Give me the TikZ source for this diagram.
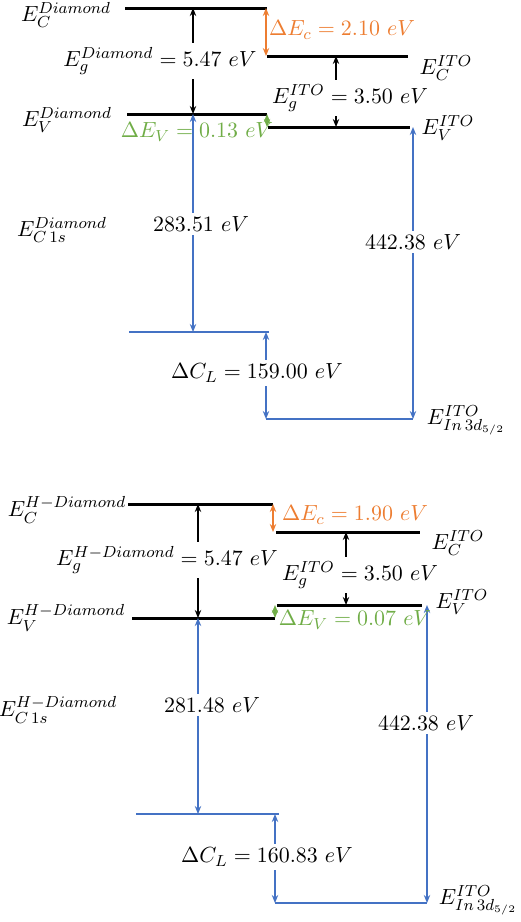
\documentclass[tikz,border=0pt]{standalone}
\usetikzlibrary{arrows.meta}
\definecolor{oblue}{HTML}{4472C4}
\definecolor{oorange}{HTML}{ED7D31}
\definecolor{ogreen}{HTML}{70AD47}
\begin{document}
\begin{tikzpicture}[x=0.5pt,y=-0.5pt,
  level/.style={line width=1.5pt,black},
  core/.style={line width=1.1pt,oblue},
  dbl/.style={line width=0.9pt,{Stealth[length=4pt,width=3.2pt]}-{Stealth[length=4pt,width=3.2pt]}},
  gapar/.style={dbl,black},
  corear/.style={dbl,oblue},
  lbl/.style={inner sep=1pt,font=\fontsize{11}{13}\selectfont},
  cut/.style={lbl,fill=white,inner sep=2pt}]
\useasboundingbox (0,0) rectangle (520,922);
% ---------------- top diagram ----------------
\coordinate (dcL) at (125,8);   \coordinate (dcR) at (267,8);
\coordinate (dvL) at (127,114); \coordinate (dvR) at (267,114);
\coordinate (icL) at (267,56);  \coordinate (icR) at (408,56);
\coordinate (ivL) at (268,127); \coordinate (ivR) at (410,127);
\coordinate (d1L) at (129,332); \coordinate (d1R) at (269,332);
\coordinate (inL) at (266,419); \coordinate (inR) at (413,419);
\coordinate (ga) at (193,8);    \coordinate (gb) at (193,114);
\coordinate (gc) at (193,332);
\coordinate (ia) at (336,56);   \coordinate (ib) at (336,127);
\coordinate (oa) at (266,8);    \coordinate (ob) at (266,56);
\coordinate (ea) at (267,114);  \coordinate (eb) at (267,127);
\coordinate (la) at (266,332);  \coordinate (lb) at (266,419);
\coordinate (ra) at (413,127);  \coordinate (rb) at (413,419);
\draw[level] (dcL) -- (dcR);
\draw[level] (dvL) -- (dvR);
\draw[level] (icL) -- (icR);
\draw[level] (ivL) -- (ivR);
\draw[core] (d1L) -- (d1R);
\draw[core] (inL) -- (inR);
\draw[gapar] (ga) -- (gb);
\draw[gapar] (ia) -- (ib);
\draw[dbl,oorange] (oa) -- (ob);
\draw[dbl,ogreen] (ea) -- (eb);
\draw[corear] (gb) -- (gc);
\draw[corear] (la) -- (lb);
\draw[corear] (ra) -- (rb);
\node[lbl] (t1) at (66,15) {$E_C^{Diamond}$};
\node[lbl] (t2) at (67,120) {$E_V^{Diamond}$};
\node[cut] (t3) at (160,61) {$E_g^{Diamond}=5.47\ eV$};
\node[lbl,text=oorange] (t4) at (342,30) {$\Delta E_c=2.10\ eV$};
\node[lbl] (t5) at (446,68) {$E_C^{ITO}$};
\node[cut] (t6) at (350,98) {$E_g^{ITO}=3.50\ eV$};
\node[lbl] (t7) at (448,128) {$E_V^{ITO}$};
\node[lbl,text=ogreen] (t8) at (197,132) {$\Delta E_V=0.13\ eV$};
\node[lbl] (t9) at (62,230) {$E_{C\,1s}^{Diamond}$};
\node[cut] (t10) at (201,224) {$283.51\ eV$};
\node[cut] (t11) at (413,242) {$442.38\ eV$};
\node[cut] (t12) at (257,373) {$\Delta C_L=159.00\ eV$};
\node[lbl] (t13) at (466,420) {$E_{In\,3d_{5/2}}^{ITO}$};
% ---------------- bottom diagram ----------------
\coordinate (hcL) at (128,504); \coordinate (hcR) at (273,504);
\coordinate (hvL) at (132,618); \coordinate (hvR) at (275,618);
\coordinate (jcL) at (276,532); \coordinate (jcR) at (420,532);
\coordinate (jvL) at (277,605); \coordinate (jvR) at (422,605);
\coordinate (h1L) at (136,814); \coordinate (h1R) at (279,814);
\coordinate (jnL) at (275,903); \coordinate (jnR) at (427,903);
\coordinate (hga) at (198,504); \coordinate (hgb) at (198,618);
\coordinate (hgc) at (198,814);
\coordinate (jia) at (346,532); \coordinate (jib) at (346,605);
\coordinate (hoa) at (273,504); \coordinate (hob) at (273,532);
\coordinate (hea) at (275,605); \coordinate (heb) at (275,618);
\coordinate (hla) at (275,814); \coordinate (hlb) at (275,903);
\coordinate (hra) at (427,605); \coordinate (hrb) at (427,903);
\draw[level] (hcL) -- (hcR);
\draw[level] (hvL) -- (hvR);
\draw[level] (jcL) -- (jcR);
\draw[level] (jvL) -- (jvR);
\draw[core] (h1L) -- (h1R);
\draw[core] (jnL) -- (jnR);
\draw[gapar] (hga) -- (hgb);
\draw[gapar] (jia) -- (jib);
\draw[dbl,oorange] (hoa) -- (hob);
\draw[dbl,ogreen] (hea) -- (heb);
\draw[corear] (hgb) -- (hgc);
\draw[corear] (hla) -- (hlb);
\draw[corear] (hra) -- (hrb);
\node[lbl] (b1) at (67,510) {$E_C^{H-Diamond}$};
\node[cut] (b2) at (167,560) {$E_g^{H-Diamond}=5.47\ eV$};
\node[lbl] (b3) at (66,618) {$E_V^{H-Diamond}$};
\node[lbl,text=oorange] (b4) at (355,515) {$\Delta E_c=1.90\ eV$};
\node[lbl] (b5) at (458,543) {$E_C^{ITO}$};
\node[cut] (b6) at (360,575) {$E_g^{ITO}=3.50\ eV$};
\node[lbl] (b7) at (462,602) {$E_V^{ITO}$};
\node[lbl,text=ogreen] (b8) at (355,620) {$\Delta E_V=0.07\ eV$};
\node[lbl] (b9) at (58,710) {$E_{C\,1s}^{H-Diamond}$};
\node[cut] (b10) at (212,705) {$281.48\ eV$};
\node[cut] (b11) at (426,723) {$442.38\ eV$};
\node[cut] (b12) at (267,857) {$\Delta C_L=160.83\ eV$};
\node[lbl] (b13) at (478,900) {$E_{In\,3d_{5/2}}^{ITO}$};
\end{tikzpicture}
\end{document}
